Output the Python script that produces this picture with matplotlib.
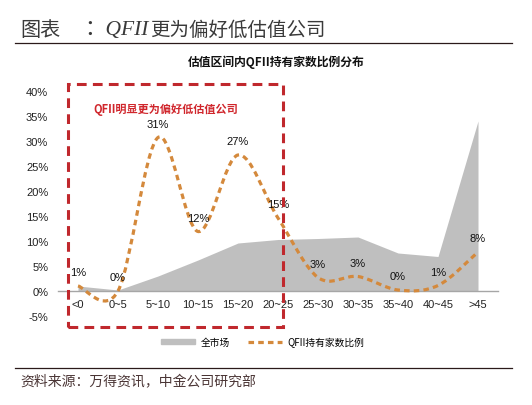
#!/usr/bin/env python3

"""QFII holdings by valuation bucket vs whole market, smoothed Excel-style line."""

import matplotlib
matplotlib.use('Agg')
import matplotlib.pyplot as plt
import matplotlib.patches as mpatches
from matplotlib.lines import Line2D
from matplotlib.path import Path

categories = ['<0', '0~5', '5~10', '10~15', '15~20', '20~25',
              '25~30', '30~35', '35~40', '40~45', '>45']
market = [1.0, 0.2, 3.0, 6.2, 9.6, 10.3, 10.5, 10.8, 7.6, 6.9, 34.0]
qfii = [1.0, 0.0, 30.7, 11.9, 27.2, 14.6, 2.7, 2.9, 0.2, 1.1, 7.8]
qfii_labels = ['1%', '0%', '31%', '12%', '27%', '15%',
               '3%', '3%', '0%', '1%', '8%']
y_ticks = [-5, 0, 5, 10, 15, 20, 25, 30, 35, 40]

CJK = ['Noto Sans CJK SC', 'DejaVu Sans']
LATIN = 'Liberation Sans'
GREY = '#bfbfbf'
ORANGE = '#d4893c'
RED = '#c0282d'

W, H = 532, 406


def fx(px):
    return px / W


def fy(py):
    return 1 - py / H


def smooth_path(xs, ys):
    """Bezier path through the points, same tangent rule as Excel smoothing."""
    pts = list(zip(xs, ys))
    n = len(pts)
    verts = [pts[0]]
    codes = [Path.MOVETO]
    for i in range(n - 1):
        p0 = pts[i - 1] if i > 0 else pts[i]
        p1 = pts[i]
        p2 = pts[i + 1]
        p3 = pts[i + 2] if i + 2 < n else pts[i + 1]
        c1 = (p1[0] + (p2[0] - p0[0]) / 6, p1[1] + (p2[1] - p0[1]) / 6)
        c2 = (p2[0] - (p3[0] - p1[0]) / 6, p2[1] - (p3[1] - p1[1]) / 6)
        verts += [c1, c2, p2]
        codes += [Path.CURVE4] * 3
    return Path(verts, codes)


fig = plt.figure(figsize=(W / 100, H / 100), dpi=100)
ax = fig.add_axes([fx(58), fy(317), fx(498 - 58), (317 - 92) / H])

# spine position first: it resets the ticks
for side in ['left', 'right', 'top']:
    ax.spines[side].set_visible(False)
ax.spines['bottom'].set_position(('data', 0))
ax.spines['bottom'].set_color('#a6a6a6')
ax.spines['bottom'].set_linewidth(1.0)

x = list(range(len(categories)))
ax.fill_between(x, 0, market, color=GREY, lw=0, zorder=1)

lw = 2.3
line = mpatches.PathPatch(smooth_path(x, qfii), fill=False, edgecolor=ORANGE,
                          lw=lw, linestyle=(0, (4.0 / lw, 3.0 / lw)),
                          capstyle='butt', zorder=3)
ax.add_patch(line)

for xi, yi, lab in zip(x, qfii, qfii_labels):
    ax.annotate(lab, (xi, yi), xytext=(0, 10), textcoords='offset points',
                ha='center', va='center', fontsize=8, family=LATIN,
                color='#111111', zorder=4)

ax.set_xlim(-0.5, len(categories) - 0.5)
ax.set_ylim(-5, 40)
ax.set_xticks(x)
ax.set_xticklabels(categories)
ax.set_yticks(y_ticks)
ax.set_yticklabels(['%d%%' % v for v in y_ticks])
ax.tick_params(axis='both', length=0, labelsize=8, labelcolor='#222222',
               labelfontfamily=LATIN)
ax.tick_params(axis='x', pad=5.5)
ax.tick_params(axis='y', pad=7)
ax.set_facecolor('none')

# red dashed highlight box, reaching outside the plot area
blw = 2.2
box = mpatches.Rectangle((fx(68), fy(328)), fx(283 - 68), (328 - 85) / H,
                         transform=fig.transFigure, fill=False,
                         edgecolor=RED, lw=blw,
                         linestyle=(0, (7.0 / blw, 4.5 / blw)), zorder=5)
fig.patches.append(box)
fig.text(fx(93), fy(110), 'QFII明显更为偏好低估值公司', family=CJK,
         fontsize=8, weight='bold', color='#d0262c', va='center', ha='left')

# headings
fig.text(fx(20), fy(30), '图表', family=CJK, fontsize=14.5,
         color='#3a3a3a', va='center', weight='light')
fig.text(fx(84), fy(30), '：QFII', family=['Liberation Serif', 'Noto Sans CJK SC'],
         style='italic', fontsize=15.5, color='#3a3a3a', va='center')
fig.text(fx(150), fy(30), '更为偏好低估值公司', family=CJK, fontsize=14,
         color='#3a3a3a', va='center', weight='light')
fig.add_artist(Line2D([fx(15), fx(512)], [fy(44), fy(44)], color='#2b1a1a',
                      lw=0.9, transform=fig.transFigure))
fig.text(fx(276), fy(62), '估值区间内QFII持有家数比例分布', family=CJK,
         fontsize=8.5, weight='bold', color='#111111', ha='center', va='center')

# legend
handles = [mpatches.Patch(color=GREY, label='全市场'),
           Line2D([], [], color=ORANGE, lw=lw,
                  linestyle=(0, (4.0 / lw, 3.0 / lw)), label='QFII持有家数比例')]
fig.legend(handles=handles, loc='center', bbox_to_anchor=(fx(263), fy(343)),
           ncol=2, frameon=False, prop={'family': CJK, 'size': 7},
           handlelength=3.5, handleheight=0.5, handletextpad=0.6,
           columnspacing=1.8)

# source line
fig.add_artist(Line2D([fx(15), fx(512)], [fy(369), fy(369)], color='#2b1a1a',
                      lw=0.9, transform=fig.transFigure))
fig.text(fx(20), fy(382), '资料来源：万得资讯，中金公司研究部', family=CJK,
         fontsize=10, color='#4a3535', va='center', weight='light')

fig.savefig('out.png', dpi=100)
